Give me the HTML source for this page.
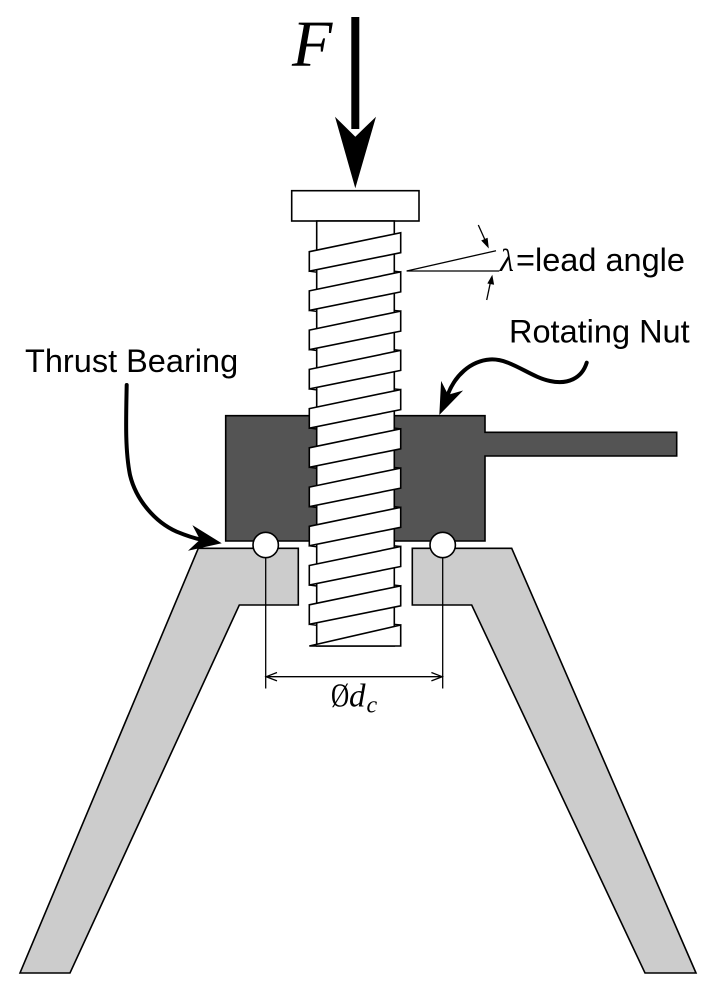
<!DOCTYPE html>
<html>
<head>
<meta charset="utf-8">
<style>
html,body{margin:0;padding:0;background:#fff;}
svg{display:block;}
</style>
</head>
<body>
<svg width="711" height="995" viewBox="0 0 711 995" xmlns="http://www.w3.org/2000/svg">
  <!-- Legs -->
  <polygon points="198.3,548.3 298.3,548.3 298.3,605 239.3,605 70,973 20,973" fill="#cccccc" stroke="#000" stroke-width="1.6" stroke-linejoin="miter"/>
  <polygon points="412.3,548.3 511.7,548.3 696,973 645,973 471.7,605 412.3,605" fill="#cccccc" stroke="#000" stroke-width="1.6" stroke-linejoin="miter"/>

  <!-- Nut -->
  <polygon points="225.7,415.7 485,415.7 485,432.3 676.7,432.3 676.7,456 485,456 485,541 225.7,541" fill="#545454" stroke="#000" stroke-width="1.6"/>

  <!-- Screw head -->
  <rect x="291.7" y="190.7" width="127.3" height="30.3" fill="#fff" stroke="#000" stroke-width="1.6"/>
  <!-- Screw shaft -->
  <rect x="316.7" y="221" width="77.6" height="425" fill="#fff" stroke="#000" stroke-width="1.6"/>

  <!-- Threads -->
  <g fill="#fff" stroke="#000" stroke-width="1.6" stroke-linejoin="miter">
    <polygon points="309.3,251.7 400.7,232.7 400.7,252.7 309.3,271.2"/>
    <polygon points="309.3,290.9 400.7,271.9 400.7,291.9 309.3,310.4"/>
    <polygon points="309.3,330.1 400.7,311.1 400.7,331.1 309.3,349.6"/>
    <polygon points="309.3,369.4 400.7,350.4 400.7,370.4 309.3,388.9"/>
    <polygon points="309.3,408.6 400.7,389.6 400.7,409.6 309.3,428.1"/>
    <polygon points="309.3,447.8 400.7,428.8 400.7,448.8 309.3,467.3"/>
    <polygon points="309.3,487.1 400.7,468.1 400.7,488.1 309.3,506.6"/>
    <polygon points="309.3,526.3 400.7,507.3 400.7,527.3 309.3,545.8"/>
    <polygon points="309.3,565.5 400.7,546.5 400.7,566.5 309.3,585.0"/>
    <polygon points="309.3,604.8 400.7,585.8 400.7,605.8 309.3,624.3"/>
    <polygon points="309.3,646 400.7,625 400.7,646"/>
  </g>
  <!-- back-thread ticks -->
  <g stroke="#000" stroke-width="1.4">
    <line x1="309.3" y1="271.2" x2="316.7" y2="272.2"/>
    <line x1="309.3" y1="310.4" x2="316.7" y2="311.4"/>
    <line x1="309.3" y1="349.6" x2="316.7" y2="350.6"/>
    <line x1="309.3" y1="388.9" x2="316.7" y2="389.9"/>
    <line x1="309.3" y1="428.1" x2="316.7" y2="429.1"/>
    <line x1="309.3" y1="467.3" x2="316.7" y2="468.3"/>
    <line x1="309.3" y1="506.6" x2="316.7" y2="507.6"/>
    <line x1="309.3" y1="545.8" x2="316.7" y2="546.8"/>
    <line x1="309.3" y1="585.0" x2="316.7" y2="586.0"/>
    <line x1="309.3" y1="624.3" x2="316.7" y2="625.3"/>
    <line x1="394.3" y1="271.2" x2="400.7" y2="271.9"/>
    <line x1="394.3" y1="310.4" x2="400.7" y2="311.1"/>
    <line x1="394.3" y1="349.7" x2="400.7" y2="350.4"/>
    <line x1="394.3" y1="388.9" x2="400.7" y2="389.6"/>
    <line x1="394.3" y1="428.1" x2="400.7" y2="428.8"/>
    <line x1="394.3" y1="467.4" x2="400.7" y2="468.1"/>
    <line x1="394.3" y1="506.6" x2="400.7" y2="507.3"/>
    <line x1="394.3" y1="545.8" x2="400.7" y2="546.5"/>
    <line x1="394.3" y1="585.1" x2="400.7" y2="585.8"/>
    <line x1="394.3" y1="624.3" x2="400.7" y2="625"/>
  </g>

  <!-- Bearing balls -->
  <circle cx="265.7" cy="545" r="12.7" fill="#fff" stroke="#000" stroke-width="1.6"/>
  <circle cx="442.7" cy="545" r="12.7" fill="#fff" stroke="#000" stroke-width="1.6"/>

  <!-- Dimension dc -->
  <g stroke="#000" stroke-width="1.3" fill="none">
    <line x1="265.7" y1="558.5" x2="265.7" y2="688.5"/>
    <line x1="442.7" y1="558.5" x2="442.7" y2="688.5"/>
    <line x1="265.7" y1="676.7" x2="442.7" y2="676.7"/>
    <polyline points="277,672.5 266.2,676.7 277,680.9"/>
    <polyline points="431.4,672.5 442.2,676.7 431.4,680.9"/>
  </g>
  <text x="331" y="706.7" font-family="'Liberation Serif', 'DejaVu Serif', serif" font-size="34" transform="translate(331 706.7) scale(0.74 1) translate(-331 -706.7)">Ø</text>
  <text x="349" y="706.7" font-family="'Liberation Serif', serif" font-style="italic" font-size="33">d</text>
  <text x="366.5" y="712.7" font-family="'Liberation Serif', serif" font-style="italic" font-size="24">c</text>

  <!-- Force arrow -->
  <rect x="351.3" y="17" width="8" height="112" fill="#000"/>
  <polygon points="355.3,188.3 376,116.7 355.3,136.7 335,116.7" fill="#000"/>
  <text x="292" y="66" font-family="'Liberation Serif', serif" font-style="italic" font-size="66">F</text>

  <!-- Lead angle annotation -->
  <g stroke="#000" stroke-width="1.3" fill="none">
    <line x1="406.7" y1="271" x2="496" y2="250.7"/>
    <line x1="406.7" y1="271" x2="499.3" y2="271"/>
    <line x1="478.3" y1="225" x2="485.5" y2="241"/>
    <line x1="486.7" y1="300" x2="490.5" y2="282"/>
  </g>
  <polygon points="488.8,248.5 481.2,240.5 487.6,237.7" fill="#000"/>
  <polygon points="492.3,274.8 487.3,283.5 494.1,284.8" fill="#000"/>
  <text x="500" y="271" font-family="'Liberation Serif', serif" font-style="italic" font-size="32">λ</text>
  <text x="516" y="271" font-family="'Liberation Sans', sans-serif" font-size="32.5">=lead angle</text>

  <!-- Rotating Nut label and arrow -->
  <text x="509" y="342.7" font-family="'Liberation Sans', sans-serif" font-size="32.5">Rotating Nut</text>
  <path d="M586.7,362.7 C582,378 568,385 550,381 C530,377 510,358 490,359.5 C470,361 455,376 448,394" fill="none" stroke="#000" stroke-width="4" stroke-linecap="round"/>
  <polygon points="439.3,415 463.1,390.5 448.1,394.8 441.1,380.9" fill="#000"/>

  <!-- Thrust Bearing label and arrow -->
  <text x="25" y="372" font-family="'Liberation Sans', sans-serif" font-size="32.5">Thrust Bearing</text>
  <path d="M126.7,385 C126,420 125,450 130,475 C136,500 155,522 176.7,531.7 C186,535.5 193,538 201,539.6" fill="none" stroke="#000" stroke-width="4" stroke-linecap="round"/>
  <polygon points="221.7,543.3 192.4,525.1 200,539.6 188,550.7" fill="#000"/>
</svg>
</body>
</html>
